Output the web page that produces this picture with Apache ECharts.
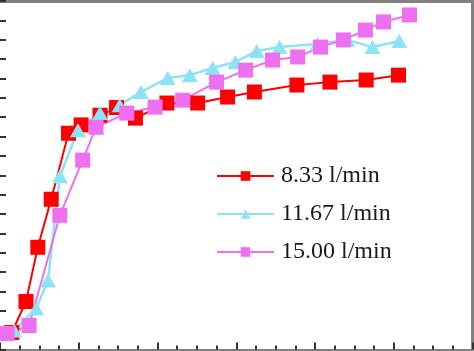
<!DOCTYPE html>
<html>
<head>
<meta charset="utf-8">
<script src="https://cdn.jsdelivr.net/npm/echarts@6/dist/echarts.min.js"></script>
<style>
html,body{margin:0;padding:0;background:#fff;}
#c{width:474px;height:351px;}
</style>
</head>
<body>
<div id="c"></div>
<script>
var seriesNames = ['8.33 l/min', '11.67 l/min', '15.00 l/min'];

var redX = [0.15, 0.33, 0.48, 0.65, 0.87, 1.03, 1.27, 1.48, 1.72, 2.12, 2.51, 2.89, 3.23, 3.77, 4.19, 4.65, 5.06];
var redY = [0.88, 2.48, 5.28, 7.76, 11.17, 11.6, 12.1, 12.5, 11.95, 12.73, 12.73, 13.04, 13.3, 13.66, 13.81, 13.92, 14.17];

var cyanX = [0.18, 0.46, 0.61, 0.76, 0.99, 1.27, 1.52, 1.79, 2.13, 2.41, 2.70, 2.99, 3.26, 3.55, 4.03, 4.41, 4.73, 5.07];
var cyanY = [0.98, 2.12, 3.57, 8.95, 11.33, 12.21, 12.62, 13.3, 14.02, 14.17, 14.54, 14.85, 15.42, 15.62, 15.78, 15.99, 15.62, 15.93];

var pinkX = [0.09, 0.37, 0.76, 1.05, 1.22, 1.61, 1.97, 2.32, 2.75, 3.12, 3.46, 3.78, 4.07, 4.36, 4.64, 4.87, 5.20];
var pinkY = [0.83, 1.24, 6.93, 9.78, 11.48, 12.21, 12.52, 12.88, 13.81, 14.43, 14.95, 15.11, 15.62, 15.99, 16.5, 16.92, 17.28];

function pairs(xs, ys) { return xs.map(function (x, i) { return [x, ys[i]]; }); }

var chart = echarts.init(document.getElementById('c'));
chart.setOption({
  animation: false,
  backgroundColor: '#fff',
  grid: { left: 0, top: 1, right: 1.5, bottom: 1.5 },
  legend: {
    orient: 'vertical',
    left: 216,
    top: 164,
    padding: 0,
    itemWidth: 57,
    itemHeight: 12,
    itemGap: 14,
    textStyle: { fontFamily: "'Liberation Serif', 'Times New Roman', serif", fontSize: 24, color: '#1a1a1a', padding: [0, 0, 0, 2] },
    data: seriesNames
  },
  xAxis: [{
    type: 'value', min: 0, max: 6, interval: 1,
    axisLine: { show: true, onZero: false, lineStyle: { color: '#808080', width: 2 } },
    axisTick: { show: true, inside: true, length: 7, lineStyle: { color: '#333', width: 2 } },
    minorTick: { show: true, splitNumber: 4, length: 4, lineStyle: { color: '#333', width: 2 } },
    axisLabel: { show: false },
    splitLine: { show: false }
  }, {
    type: 'value', position: 'top', min: 0, max: 6,
    axisLine: { show: true, onZero: false, lineStyle: { color: '#808080', width: 3 } },
    axisTick: { show: false }, axisLabel: { show: false }, splitLine: { show: false }
  }],
  yAxis: [{
    type: 'value', min: 0, max: 18, interval: 1,
    axisLine: { show: false },
    axisTick: { show: true, inside: true, length: 6, lineStyle: { color: '#333', width: 2 } },
    axisLabel: { show: false },
    splitLine: { show: false }
  }, {
    type: 'value', position: 'right', min: 0, max: 18,
    axisLine: { show: true, onZero: false, lineStyle: { color: '#808080', width: 3 } },
    axisTick: { show: false }, axisLabel: { show: false }, splitLine: { show: false }
  }],
  series: [{
    name: seriesNames[0], type: 'line', data: pairs(redX, redY),
    symbol: 'rect', symbolSize: 15,
    lineStyle: { color: '#ff0000', width: 2 },
    itemStyle: { color: '#ff0000' }
  }, {
    name: seriesNames[1], type: 'line', data: pairs(cyanX, cyanY),
    symbol: 'triangle', symbolSize: [16, 14],
    lineStyle: { color: '#8ce3f8', width: 2.5 },
    itemStyle: { color: '#8ce3f8' }
  }, {
    name: seriesNames[2], type: 'line', data: pairs(pinkX, pinkY),
    symbol: 'rect', symbolSize: 15,
    lineStyle: { color: '#ee70f0', width: 2 },
    itemStyle: { color: '#ee70f0' }
  }]
});
</script>
</body>
</html>
